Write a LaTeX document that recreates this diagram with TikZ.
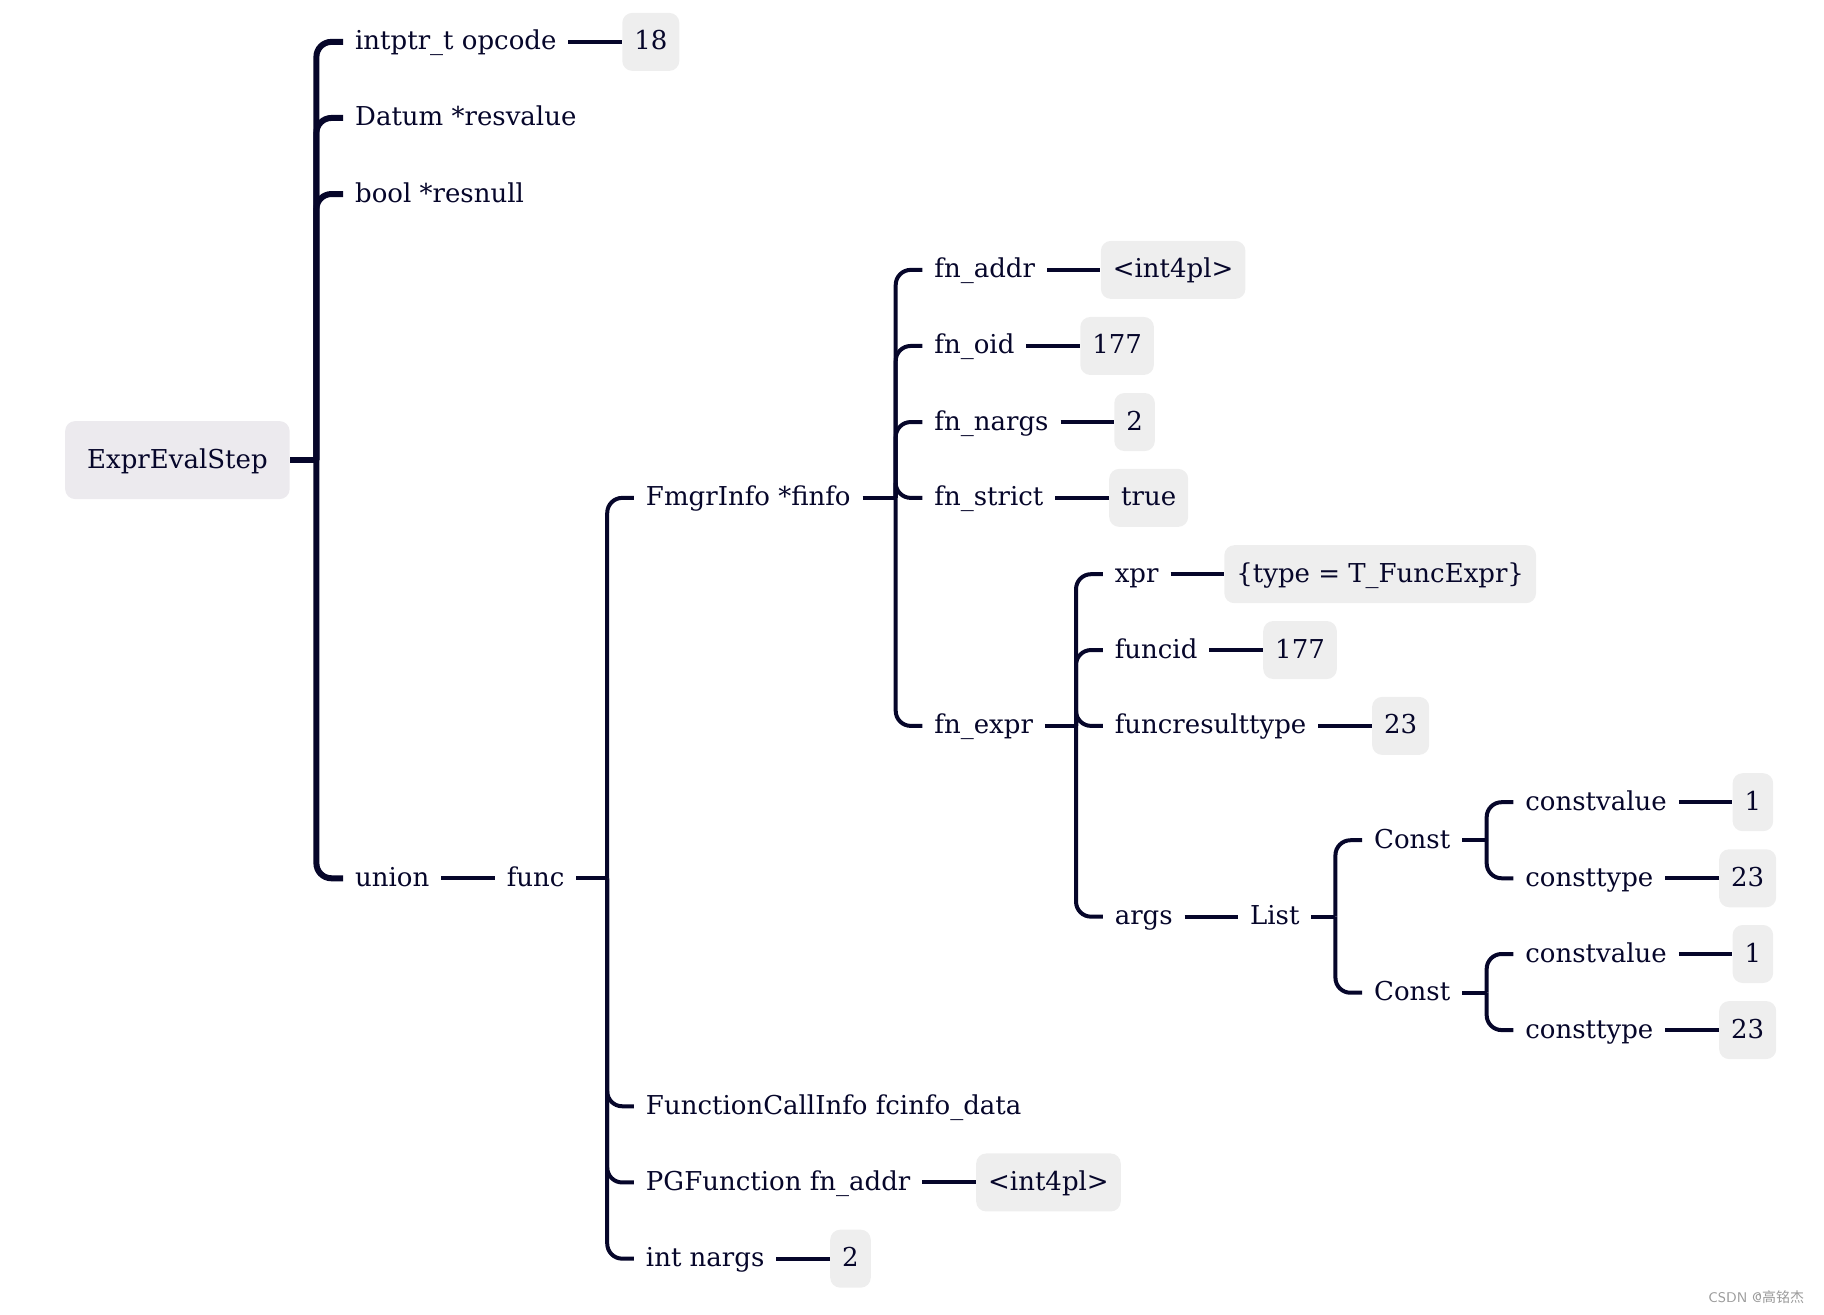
\documentclass[tikz,border=0pt]{standalone}
\usepackage{fontspec}
\setmainfont{DejaVu Serif}
\newfontfamily\cjkfont{Noto Sans CJK SC}
\usetikzlibrary{positioning}
\definecolor{tinta}{HTML}{06062A}
\definecolor{caja}{HTML}{EEEEEE}
\definecolor{raiz}{HTML}{ECEAEE}
\definecolor{marca}{HTML}{9A9A9A}

\begin{document}
\begin{tikzpicture}[
        x=0.5816pt, y=-0.5816pt,
        node distance=26.7pt,
        font=\fontsize{13}{15}\selectfont,
        campo/.style={text=tinta, inner xsep=5.8pt, inner ysep=0pt, text height=0.9em, text depth=0.1em, anchor=west},
        valor/.style={text=tinta, rectangle, rounded corners=5pt, fill=caja, inner xsep=6pt, inner ysep=0pt, minimum height=29pt, text height=0.9em, text depth=0.1em},
        raizbox/.style={valor, fill=raiz, inner xsep=11pt, minimum height=39pt},
        rama/.style={draw=tinta, line width=2pt, rounded corners=7.5pt},
        ramaraiz/.style={rama, line width=3pt},
        enlace/.style={draw=tinta, line width=2pt}
    ]
    \useasboundingbox (0,0) rectangle (1568,1130);

    % raiz
    \node[raizbox] (root) at (152.5,395.5) {ExprEvalStep};
    \coordinate (j0) at (272,395.5);

    \node[campo] (opc) at (295,36) {intptr\_t opcode};
    \node[valor, right=of opc] (v18) {18};
    \node[campo] (resv) at (295,101.4) {Datum *resvalue};
    \node[campo] (resn) at (295,166.8) {bool *resnull};
    \node[campo] (uni) at (295,755) {union};
    \node[campo, right=of uni] (func) {func};

    \draw[ramaraiz] (root) -- (j0);
    \foreach \c in {opc, resv, resn, uni}
        \draw[ramaraiz] (j0) |- (\c);
    \draw[enlace] (opc) -- (v18);
    \draw[enlace] (uni) -- (func);

    % func
    \coordinate (j1) at (522,755);
    \node[campo] (finfo) at (545,428) {FmgrInfo *finfo};
    \node[campo] (fcinfo) at (545,951) {FunctionCallInfo fcinfo\_data};
    \node[campo] (pgfn) at (545,1016.5) {PGFunction fn\_addr};
    \node[valor, right=of pgfn] (vpgfn) {<int4pl>};
    \node[campo] (nargs) at (545,1082) {int nargs};
    \node[valor, right=of nargs] (vnargs) {2};

    \draw[enlace] (func) -- (j1);
    \foreach \c in {finfo, fcinfo, pgfn, nargs}
        \draw[rama] (j1) |- (\c);
    \draw[enlace] (pgfn) -- (vpgfn);
    \draw[enlace] (nargs) -- (vnargs);

    % finfo
    \coordinate (j2) at (770,428);
    \node[campo] (faddr) at (793,232) {fn\_addr};
    \node[valor, right=of faddr] (vfaddr) {<int4pl>};
    \node[campo] (foid) at (793,297.4) {fn\_oid};
    \node[valor, right=of foid] (vfoid) {177};
    \node[campo] (fnargs) at (793,362.8) {fn\_nargs};
    \node[valor, right=of fnargs] (vfnargs) {2};
    \node[campo] (fstrict) at (793,428) {fn\_strict};
    \node[valor, right=of fstrict] (vfstrict) {true};
    \node[campo] (fexpr) at (793,624) {fn\_expr};

    \draw[enlace] (finfo) -- (j2);
    \foreach \c in {faddr, foid, fnargs, fstrict, fexpr}
        \draw[rama] (j2) |- (\c);
    \draw[enlace] (faddr) -- (vfaddr);
    \draw[enlace] (foid) -- (vfoid);
    \draw[enlace] (fnargs) -- (vfnargs);
    \draw[enlace] (fstrict) -- (vfstrict);

    % fn_expr
    \coordinate (j3) at (925,624);
    \node[campo] (xpr) at (948,493.6) {xpr};
    \node[valor, right=of xpr] (vxpr) {\{type = T\_FuncExpr\}};
    \node[campo] (fid) at (948,558.8) {funcid};
    \node[valor, right=of fid] (vfid) {177};
    \node[campo] (fres) at (948,624) {funcresulttype};
    \node[valor, right=of fres] (vfres) {23};
    \node[campo] (args) at (948,788) {args};
    \node[campo, right=of args] (lista) {List};

    \draw[enlace] (fexpr) -- (j3);
    \foreach \c in {xpr, fid, fres, args}
        \draw[rama] (j3) |- (\c);
    \draw[enlace] (xpr) -- (vxpr);
    \draw[enlace] (fid) -- (vfid);
    \draw[enlace] (fres) -- (vfres);
    \draw[enlace] (args) -- (lista);

    % List
    \coordinate (j4) at (1148,788);
    \node[campo] (c1) at (1171,722.3) {Const};
    \node[campo] (c2) at (1171,853.4) {Const};
    \draw[enlace] (lista) -- (j4);
    \foreach \c in {c1, c2}
        \draw[rama] (j4) |- (\c);

    % Const 1
    \coordinate (j5) at (1278,722.3);
    \node[campo] (cv1) at (1301,689.6) {constvalue};
    \node[valor, right=of cv1] (vcv1) {1};
    \node[campo] (ct1) at (1301,755) {consttype};
    \node[valor, right=of ct1] (vct1) {23};
    \draw[enlace] (c1) -- (j5);
    \foreach \c in {cv1, ct1}
        \draw[rama] (j5) |- (\c);
    \draw[enlace] (cv1) -- (vcv1);
    \draw[enlace] (ct1) -- (vct1);

    % Const 2
    \coordinate (j6) at (1278,853.4);
    \node[campo] (cv2) at (1301,820.1) {constvalue};
    \node[valor, right=of cv2] (vcv2) {1};
    \node[campo] (ct2) at (1301,885.5) {consttype};
    \node[valor, right=of ct2] (vct2) {23};
    \draw[enlace] (c2) -- (j6);
    \foreach \c in {cv2, ct2}
        \draw[rama] (j6) |- (\c);
    \draw[enlace] (cv2) -- (vcv2);
    \draw[enlace] (ct2) -- (vct2);

    \node[anchor=east, text=marca, font=\sffamily\fontsize{7}{8}\selectfont] (firma) at (1557,1115) {CSDN @{\cjkfont 高铭杰}};
\end{tikzpicture}
\end{document}
